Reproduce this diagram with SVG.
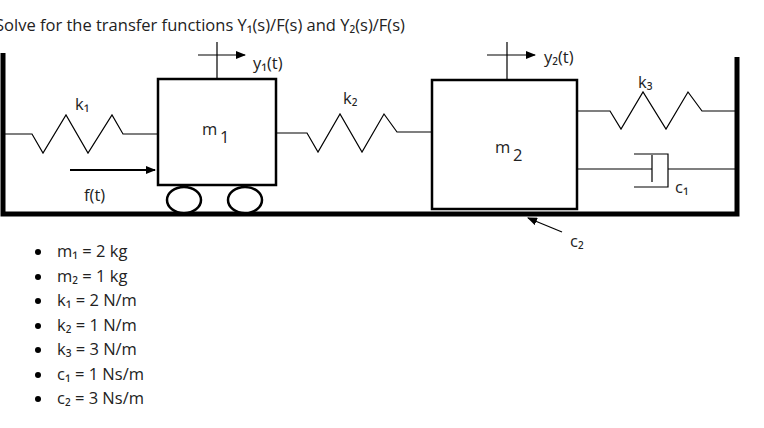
<svg xmlns="http://www.w3.org/2000/svg" width="764" height="428" viewBox="0 0 764 428">
<style>
text{font-family:"Open Sans","Liberation Sans",sans-serif;font-size:16.5px;fill:#222}
.l{stroke:#000;stroke-width:1.2;fill:none}
.b{stroke:#000;stroke-width:2.5;fill:#fff}
.w{stroke:#000;stroke-width:5;fill:none}
</style>
<defs><marker id="a" markerWidth="10" markerHeight="8" refX="9" refY="4" orient="auto" markerUnits="userSpaceOnUse"><path d="M0,0L10,4L0,8z" fill="#000"/></marker></defs>
<rect width="764" height="428" fill="#fff"/>
<text x="-5" y="31">Solve for the transfer functions Y₁(s)/F(s) and Y₂(s)/F(s)</text>
<g id="ground"><path class="w" d="M3,53V214H737V57"/></g>
<g id="connectors">
<path class="l" d="M3,134H32L43,153L66,115L88,153L112,115L123,134H158"/>
<path class="l" d="M276,133H307L318,152L340,114L362,152L384,114L397,132H432"/>
<path class="l" d="M577,111H610L621,129L643,92L666,129L688,92L702,111H735"/>
<path class="l" d="M577,169H652M652,155V182M634,154H668V187H634M668,169H735"/>
<path stroke="#000" stroke-width="2" d="M70,170H155" marker-end="url(#a)"/>
<path class="l" d="M217,42V79M198,55H245" marker-end="url(#a)"/>
<path class="l" d="M507,42V80M487,55H535" marker-end="url(#a)"/>
<path class="l" d="M562,232L528,218" marker-end="url(#a)"/>
</g>
<g id="m1"><rect class="b" x="158" y="79" width="118" height="106"/><text x="202" y="135" font-size="20">m</text><text x="220" y="143" font-size="12">1</text>
<ellipse class="b" cx="184" cy="200" rx="17" ry="13"/><ellipse class="b" cx="245" cy="200" rx="17" ry="13"/></g>
<g id="m2"><rect class="b" x="432" y="80" width="145" height="129"/><text x="495" y="153" font-size="20">m</text><text x="513" y="161" font-size="12">2</text></g>
<g id="labels">
<text x="75" y="110">k₁</text><text x="343" y="104">k₂</text><text x="638" y="88">k₃</text>
<text x="84" y="201">f(t)</text><text x="253" y="69">y₁(t)</text><text x="544" y="63">y₂(t)</text>
<text x="675" y="193">c₁</text><text x="570" y="247">c₂</text>
</g>
<g id="list">
<g fill="#000"><circle cx="38" cy="252" r="3"/><circle cx="38" cy="277" r="3"/><circle cx="38" cy="301" r="3"/><circle cx="38" cy="326" r="3"/><circle cx="38" cy="350" r="3"/><circle cx="38" cy="375" r="3"/><circle cx="38" cy="399" r="3"/></g>
<text x="57" y="257">m₁ = 2 kg</text><text x="57" y="282">m₂ = 1 kg</text><text x="57" y="306">k₁ = 2 N/m</text><text x="57" y="331">k₂ = 1 N/m</text><text x="57" y="355">k₃ = 3 N/m</text><text x="57" y="380">c₁ = 1 Ns/m</text><text x="57" y="404">c₂ = 3 Ns/m</text>
</g>
</svg>
